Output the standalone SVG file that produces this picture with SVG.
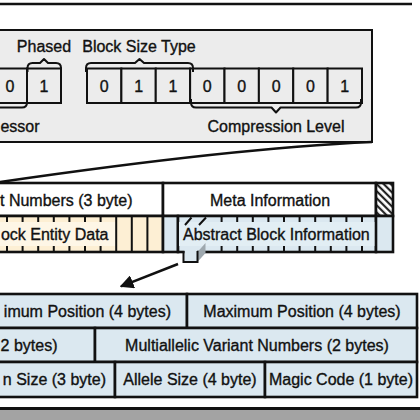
<svg xmlns="http://www.w3.org/2000/svg" width="420" height="420" viewBox="0 0 420 420">
<defs>
<style>
text{font-family:"Liberation Sans",Arial,sans-serif;font-size:16px;fill:#111;stroke:#111;stroke-width:0.35}
.c{text-anchor:middle}
.e{text-anchor:end}
.bit{fill:#ececec;stroke:#111;stroke-width:2}
.br{fill:none;stroke:#111;stroke-width:2;stroke-linejoin:round}
.cell{stroke:#111;stroke-width:2.6}
.blue{fill:#dbe8f0}
.yel{fill:#fdefd4}
.tk{stroke:#111;stroke-width:2}
.ln{fill:none;stroke:#111;stroke-width:2.5}
</style>
<pattern id="hatch" width="5" height="5" patternUnits="userSpaceOnUse" patternTransform="rotate(-45)">
<rect width="5" height="5" fill="#fff"/>
<line x1="1.2" y1="0" x2="1.2" y2="5" stroke="#111" stroke-width="2"/>
</pattern>
<marker id="ah" viewBox="0 0 10 10" refX="9" refY="5" markerWidth="5.5" markerHeight="5.5" orient="auto" markerUnits="strokeWidth">
<path d="M0,0 L10,5 L0,10 z" fill="#111"/>
</marker>
</defs>
<rect width="420" height="420" fill="#fff"/>
<line x1="0" y1="4" x2="412" y2="4" stroke="#111" stroke-width="2.5"/>

<g id="callout">
<rect x="-5" y="30" width="377" height="112" fill="#ececec" stroke="#111" stroke-width="2"/>
<text class="c" x="44" y="51.5">Phased</text>
<text class="c" x="139" y="51.5">Block Size Type</text>
<text class="e" x="39.5" y="132">essor</text>
<text class="c" x="276" y="132">Compression Level</text>
</g>

<g id="bits">
<rect class="bit" x="-7" y="68.5" width="34" height="34.5"/>
<rect class="bit" x="27" y="68.5" width="34" height="34.5"/>
<rect class="bit" x="87" y="68.5" width="34.375" height="34.5"/>
<rect class="bit" x="121.375" y="68.5" width="34.375" height="34.5"/>
<rect class="bit" x="155.75" y="68.5" width="34.375" height="34.5"/>
<rect class="bit" x="190.125" y="68.5" width="34.375" height="34.5"/>
<rect class="bit" x="224.5" y="68.5" width="34.375" height="34.5"/>
<rect class="bit" x="258.875" y="68.5" width="34.375" height="34.5"/>
<rect class="bit" x="293.25" y="68.5" width="34.375" height="34.5"/>
<rect class="bit" x="327.625" y="68.5" width="34.375" height="34.5"/>
<text class="c" x="10" y="91.5">0</text>
<text class="c" x="44" y="91.5">1</text>
<text class="c" x="104.2" y="91.5">0</text>
<text class="c" x="138.6" y="91.5">1</text>
<text class="c" x="172.9" y="91.5">1</text>
<text class="c" x="207.3" y="91.5">0</text>
<text class="c" x="241.7" y="91.5">0</text>
<text class="c" x="276.1" y="91.5">0</text>
<text class="c" x="310.4" y="91.5">0</text>
<text class="c" x="344.8" y="91.5">1</text>
</g>

<g id="braces">
<path class="br" d="M27.5,72 V68 Q27.5,63 32.5,63 H40 L44,59 L48,63 H56 Q61,63 61,68 V72"/>
<path class="br" d="M86,72 V68 Q86,63 91,63 H135 L139.5,59 L144,63 H188 Q193,63 193,68 V72"/>
<path class="br" d="M27,99 V102.5 Q27,107.5 22,107.5 H-10"/>
<path class="br" d="M191,99 V102.5 Q191,107.5 196,107.5 H271.5 L276,112.5 L280.5,107.5 H356 Q361,107.5 361,102.5 V99"/>
</g>

<g id="row-top">
<rect class="cell" x="-5" y="183" width="168" height="33" fill="#fff"/>
<rect class="cell" x="163" y="183" width="213" height="33" fill="#fff"/>
<rect class="cell" x="376" y="183" width="17" height="33" fill="url(#hatch)"/>
<text class="e" x="132.5" y="206">t Numbers (3 byte)</text>
<text class="c" x="270" y="206">Meta Information</text>
</g>

<g id="row-data">
<rect class="cell yel" x="-5" y="216" width="168" height="36"/>
<rect x="-5" y="222" width="121" height="24" fill="#fef6e6"/>
<rect class="cell blue" x="163" y="216" width="15" height="36"/>
<rect class="cell blue" x="178" y="216" width="198" height="36"/>
<rect x="179" y="222" width="196" height="24" fill="#e2eef4"/>
<rect class="cell blue" x="376" y="216" width="17" height="36"/>
<g class="tk">
<path d="M7,216 v6 M22.6,216 v6 M38.2,216 v6 M53.8,216 v6 M69.4,216 v6 M85,216 v6 M100.6,216 v6 M7,252 v-6 M22.6,252 v-6 M38.2,252 v-6 M53.8,252 v-6 M69.4,252 v-6 M85,252 v-6 M100.6,252 v-6 M116.2,216 V252 M131.8,216 V252 M147.4,216 V252"/>
<path d="M221.6,216 v6 M237.2,216 v6 M252.8,216 v6 M268.4,216 v6 M284,216 v6 M299.6,216 v6 M315.2,216 v6 M330.8,216 v6 M346.4,216 v6 M362,216 v6 M221.6,252 v-6 M237.2,252 v-6 M252.8,252 v-6 M268.4,252 v-6 M284,252 v-6 M299.6,252 v-6 M315.2,252 v-6 M330.8,252 v-6 M346.4,252 v-6 M362,252 v-6 M185,225 L191.5,217.5 M199,225 L206,217.5"/>
</g>
<rect x="184.5" y="250" width="12.5" height="11" fill="#dbe8f0"/>
<polygon points="197.5,262 205.5,253 205.5,243 197.5,252" fill="#9ea8ae"/>
<path d="M183.5,251 V262 H197.5 V251" fill="none" stroke="#111" stroke-width="2"/>
<text class="e" x="108.5" y="240">ock Entity Data</text>
<text x="183" y="240">Abstract Block Information</text>
</g>

<g id="connectors">
<path class="ln" d="M372,142 Q234,148 0,182"/>
<line class="ln" x1="178" y1="264" x2="121" y2="286.3" marker-end="url(#ah)"/>
</g>

<g id="table">
<g class="cell blue">
<rect x="-5" y="294" width="192" height="34"/>
<rect x="187" y="294" width="230" height="34"/>
<rect x="-5" y="328" width="100" height="34"/>
<rect x="95" y="328" width="322" height="34"/>
<rect x="-5" y="362" width="120" height="35"/>
<rect x="115" y="362" width="150" height="35"/>
<rect x="265" y="362" width="152" height="35"/>
</g>
<text class="e" x="171" y="317">imum Position (4 bytes)</text>
<text class="c" x="302" y="317">Maximum Position (4 bytes)</text>
<text class="e" x="57.5" y="351">2 bytes)</text>
<text class="c" x="257" y="351">Multiallelic Variant Numbers (2 bytes)</text>
<text class="e" x="106" y="385">n Size (3 byte)</text>
<text class="c" x="190" y="385">Allele Size (4 byte)</text>
<text class="c" x="341" y="385">Magic Code (1 byte)</text>
</g>

<rect x="0" y="410" width="420" height="10" fill="#a3a3a3"/>
<line x1="0" y1="408.5" x2="420" y2="408.5" stroke="#111" stroke-width="3"/>
</svg>
